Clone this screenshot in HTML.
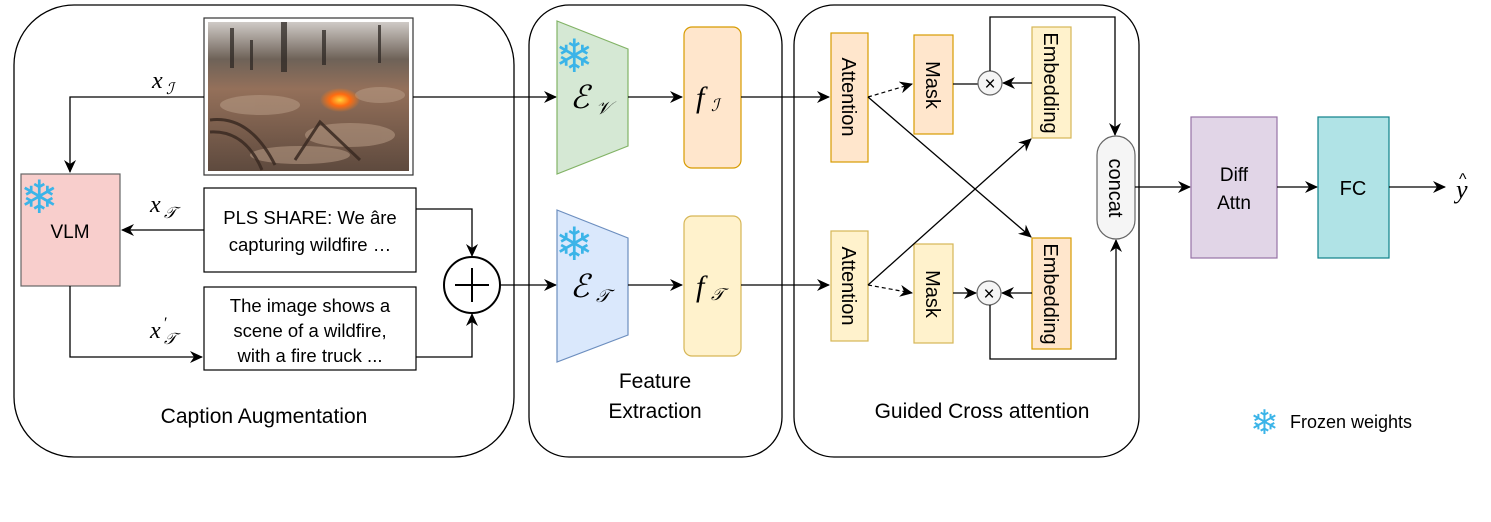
<!DOCTYPE html>
<html><head><meta charset="utf-8"><style>
html,body{margin:0;padding:0;background:#fff;}
svg{display:block;}
text{font-family:"Liberation Sans",sans-serif;fill:#000;}
.m{font-family:"Liberation Serif",serif;font-style:italic;}
.sf{fill:#3bb4e8;font-family:"DejaVu Sans",sans-serif;}
</style></head><body>
<svg width="1491" height="522" viewBox="0 0 1491 522" xmlns="http://www.w3.org/2000/svg">
<defs>
<marker id="a" markerWidth="13" markerHeight="12" refX="12" refY="6" orient="auto" markerUnits="userSpaceOnUse"><path d="M0,0 L13,6 L0,12 L4,6 z" fill="#000"/></marker>
<linearGradient id="sky" x1="0" y1="0" x2="0" y2="1">
<stop offset="0" stop-color="#cfcac6"/><stop offset="0.25" stop-color="#6e6258"/><stop offset="0.45" stop-color="#94705a"/><stop offset="1" stop-color="#5e4a3e"/></linearGradient>
<radialGradient id="fire"><stop offset="0" stop-color="#ffd23a"/><stop offset="0.5" stop-color="#ff6a10"/><stop offset="1" stop-color="#ff7a10" stop-opacity="0"/></radialGradient>
</defs>
<g fill="none" stroke="#000" stroke-width="1.3">
<rect x="14" y="5" width="500" height="452" rx="60"/>
<rect x="529" y="5" width="253" height="452" rx="40"/>
<rect x="794" y="5" width="345" height="452" rx="40"/>
</g>
<!-- photo -->
<rect x="204" y="18" width="209" height="157" fill="#fff" stroke="#333" stroke-width="1.2"/>
<rect x="208" y="22" width="201" height="149" fill="url(#sky)"/>
<g fill="#2e2824" opacity="0.75">
<rect x="281" y="22" width="6" height="50"/><rect x="230" y="28" width="4" height="40"/><rect x="322" y="30" width="4" height="35"/><rect x="378" y="25" width="3" height="38"/><rect x="250" y="40" width="3" height="30"/>
</g>
<g fill="#b89c86" opacity="0.55"><ellipse cx="260" cy="105" rx="40" ry="10"/><ellipse cx="350" cy="135" rx="45" ry="12"/><ellipse cx="300" cy="155" rx="50" ry="9"/><ellipse cx="380" cy="95" rx="25" ry="8"/></g>
<g fill="none" stroke="#3a2a22" stroke-width="3" opacity="0.85"><path d="M210,120 Q250,115 275,165"/><path d="M210,132 Q245,130 262,170"/><path d="M295,160 L320,122 L360,160"/></g>
<ellipse cx="340" cy="100" rx="20" ry="12" fill="url(#fire)"/>

<!-- left section -->
<text x="152" y="88" class="m" font-size="24">x</text><text x="166" y="94" class="m" font-size="16">ℐ</text>
<polyline points="204,97 70,97 70,172" fill="none" stroke="#000" stroke-width="1.3" marker-end="url(#a)"/>
<rect x="21" y="174" width="99" height="112" fill="#f8cecc" stroke="#666" stroke-width="1.2"/>
<text x="20" y="213" class="sf" font-size="46">❄</text>
<text x="70" y="238" font-size="19" text-anchor="middle">VLM</text>
<rect x="204" y="188" width="212" height="84" fill="#fff" stroke="#000" stroke-width="1.2"/>
<text x="310" y="224" font-size="18.5" text-anchor="middle">PLS SHARE: We âre</text>
<text x="310" y="251" font-size="18.5" text-anchor="middle">capturing wildfire …</text>
<line x1="204" y1="230" x2="122" y2="230" stroke="#000" stroke-width="1.3" marker-end="url(#a)"/>
<text x="150" y="212" class="m" font-size="24">x</text><text x="164" y="218" class="m" font-size="16">𝒯</text>
<rect x="204" y="287" width="212" height="83" fill="#fff" stroke="#000" stroke-width="1.2"/>
<text x="310" y="312" font-size="18.5" text-anchor="middle">The image shows a</text>
<text x="310" y="337" font-size="18.5" text-anchor="middle">scene of a wildfire,</text>
<text x="310" y="362" font-size="18.5" text-anchor="middle">with a fire truck ...</text>
<polyline points="70,286 70,357 202,357" fill="none" stroke="#000" stroke-width="1.3" marker-end="url(#a)"/>
<text x="150" y="338" class="m" font-size="24">x</text><text x="163" y="328" class="m" font-size="16">′</text><text x="164" y="344" class="m" font-size="16">𝒯</text>
<circle cx="472" cy="285" r="28" fill="#fff" stroke="#000" stroke-width="2"/>
<line x1="455" y1="285" x2="489" y2="285" stroke="#000" stroke-width="2"/><line x1="472" y1="268" x2="472" y2="302" stroke="#000" stroke-width="2"/>
<polyline points="416,209 472,209 472,256" fill="none" stroke="#000" stroke-width="1.3" marker-end="url(#a)"/>
<polyline points="416,357 472,357 472,314" fill="none" stroke="#000" stroke-width="1.3" marker-end="url(#a)"/>
<text x="264" y="423" font-size="21" text-anchor="middle">Caption Augmentation</text>

<!-- feature extraction -->
<line x1="413" y1="97" x2="556" y2="97" stroke="#000" stroke-width="1.3" marker-end="url(#a)"/>
<line x1="500" y1="285" x2="556" y2="285" stroke="#000" stroke-width="1.3" marker-end="url(#a)"/>
<polygon points="557,21 628,49 628,146 557,174" fill="#d5e8d4" stroke="#82b366" stroke-width="1.2"/>
<polygon points="557,210 628,238 628,335 557,362" fill="#dae8fc" stroke="#6c8ebf" stroke-width="1.2"/>
<text x="555" y="72" class="sf" font-size="46">❄</text>
<text x="555" y="260" class="sf" font-size="46">❄</text>
<text x="570" y="108" class="m" font-size="32">ℰ</text><text x="596" y="114" class="m" font-size="18">𝒱</text>
<text x="570" y="297" class="m" font-size="32">ℰ</text><text x="596" y="302" class="m" font-size="18">𝒯</text>
<line x1="628" y1="97" x2="682" y2="97" stroke="#000" stroke-width="1.3" marker-end="url(#a)"/>
<line x1="628" y1="285" x2="682" y2="285" stroke="#000" stroke-width="1.3" marker-end="url(#a)"/>
<rect x="684" y="27" width="57" height="141" rx="8" fill="#ffe6cc" stroke="#d79b00" stroke-width="1.2"/>
<rect x="684" y="216" width="57" height="140" rx="8" fill="#fff2cc" stroke="#d6b656" stroke-width="1.2"/>
<text x="696" y="107" class="m" font-size="30">f</text><text x="711" y="111" class="m" font-size="17">ℐ</text>
<text x="696" y="296" class="m" font-size="30">f</text><text x="711" y="300" class="m" font-size="17">𝒯</text>
<text x="655" y="388" font-size="21" text-anchor="middle">Feature</text>
<text x="655" y="418" font-size="21" text-anchor="middle">Extraction</text>

<!-- guided cross attention -->
<line x1="741" y1="97" x2="829" y2="97" stroke="#000" stroke-width="1.3" marker-end="url(#a)"/>
<line x1="741" y1="285" x2="829" y2="285" stroke="#000" stroke-width="1.3" marker-end="url(#a)"/>
<rect x="831" y="33" width="37" height="129" fill="#ffe6cc" stroke="#d79b00" stroke-width="1.2"/>
<rect x="831" y="231" width="37" height="110" fill="#fff2cc" stroke="#d6b656" stroke-width="1.2"/>
<rect x="914" y="35" width="39" height="99" fill="#ffe6cc" stroke="#d79b00" stroke-width="1.2"/>
<rect x="914" y="244" width="39" height="99" fill="#fff2cc" stroke="#d6b656" stroke-width="1.2"/>
<rect x="1032" y="27" width="39" height="111" fill="#fff2cc" stroke="#d6b656" stroke-width="1.2"/>
<rect x="1032" y="238" width="39" height="111" fill="#ffe6cc" stroke="#d79b00" stroke-width="1.2"/>
<g font-size="20">
<text transform="translate(842,97) rotate(90)" text-anchor="middle">Attention</text>
<text transform="translate(842,286) rotate(90)" text-anchor="middle">Attention</text>
<text transform="translate(926,85) rotate(90)" text-anchor="middle">Mask</text>
<text transform="translate(926,294) rotate(90)" text-anchor="middle">Mask</text>
<text transform="translate(1044,83) rotate(90)" text-anchor="middle">Embedding</text>
<text transform="translate(1044,294) rotate(90)" text-anchor="middle">Embedding</text>
</g>
<line x1="868" y1="97" x2="912" y2="84" stroke="#000" stroke-width="1.2" stroke-dasharray="4,3" marker-end="url(#a)"/>
<line x1="868" y1="285" x2="912" y2="293" stroke="#000" stroke-width="1.2" stroke-dasharray="4,3" marker-end="url(#a)"/>
<line x1="868" y1="97" x2="1031" y2="237" stroke="#000" stroke-width="1.3" marker-end="url(#a)"/>
<line x1="868" y1="285" x2="1031" y2="139" stroke="#000" stroke-width="1.3" marker-end="url(#a)"/>
<line x1="953" y1="84" x2="978" y2="84" stroke="#000" stroke-width="1.3"/>
<line x1="953" y1="293" x2="976" y2="293" stroke="#000" stroke-width="1.3" marker-end="url(#a)"/>
<line x1="1032" y1="83" x2="1003" y2="83" stroke="#000" stroke-width="1.3" marker-end="url(#a)"/>
<line x1="1032" y1="293" x2="1002" y2="293" stroke="#000" stroke-width="1.3" marker-end="url(#a)"/>
<circle cx="990" cy="83" r="12" fill="#f5f5f5" stroke="#666" stroke-width="1.2"/>
<circle cx="989" cy="293" r="12" fill="#f5f5f5" stroke="#666" stroke-width="1.2"/>
<text x="990" y="90" font-size="19" text-anchor="middle" fill="#333">×</text>
<text x="989" y="300" font-size="19" text-anchor="middle" fill="#333">×</text>
<polyline points="990,71 990,17 1115,17 1115,135" fill="none" stroke="#000" stroke-width="1.3" marker-end="url(#a)"/>
<polyline points="990,305 990,359 1116,359 1116,240" fill="none" stroke="#000" stroke-width="1.3" marker-end="url(#a)"/>
<rect x="1097" y="136" width="38" height="103" rx="19" fill="#f5f5f5" stroke="#666" stroke-width="1.2"/>
<text transform="translate(1109,188) rotate(90)" font-size="20" text-anchor="middle" fill="#333">concat</text>
<text x="982" y="418" font-size="21" text-anchor="middle">Guided Cross attention</text>

<!-- right -->
<line x1="1135" y1="187" x2="1190" y2="187" stroke="#000" stroke-width="1.3" marker-end="url(#a)"/>
<rect x="1191" y="117" width="86" height="141" fill="#e1d5e7" stroke="#9673a6" stroke-width="1.2"/>
<text x="1234" y="181" font-size="19" text-anchor="middle">Diff</text>
<text x="1234" y="209" font-size="19" text-anchor="middle">Attn</text>
<line x1="1277" y1="187" x2="1317" y2="187" stroke="#000" stroke-width="1.3" marker-end="url(#a)"/>
<rect x="1318" y="117" width="71" height="141" fill="#b0e3e6" stroke="#0e8088" stroke-width="1.2"/>
<text x="1353" y="195" font-size="20" text-anchor="middle">FC</text>
<line x1="1389" y1="187" x2="1445" y2="187" stroke="#000" stroke-width="1.3" marker-end="url(#a)"/>
<text x="1456" y="198" class="m" font-size="26">y</text><text x="1459" y="184" font-size="16">^</text>
<text x="1250" y="434" class="sf" font-size="34">❄</text>
<text x="1290" y="428" font-size="18">Frozen weights</text>
</svg>
</body></html>
